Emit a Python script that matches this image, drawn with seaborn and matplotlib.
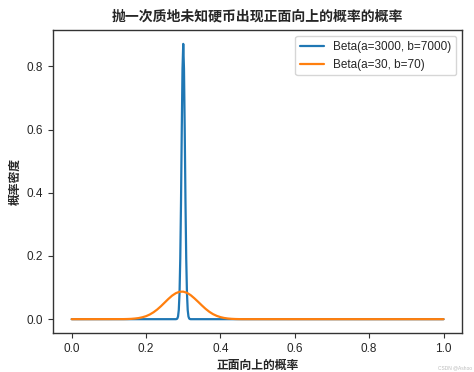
import matplotlib
matplotlib.use("Agg")
import matplotlib.pyplot as plt
import seaborn as sns

# Beta(3000, 7000): very narrow spike around 0.3
x_big = [0.0, 0.280, 0.282, 0.284, 0.286, 0.288, 0.290, 0.292, 0.294, 0.296,
         0.298, 0.300, 0.302, 0.304, 0.306, 0.308, 0.310, 0.312, 0.314,
         0.316, 0.318, 0.320, 1.0]
y_big = [0.0, 0.0, 0.0004, 0.002, 0.0085, 0.029, 0.082, 0.192, 0.371, 0.596,
         0.792, 0.871, 0.792, 0.596, 0.371, 0.192, 0.082, 0.029, 0.0085,
         0.002, 0.0004, 0.0, 0.0]

# Beta(30, 70): wide bump around 0.3
x_small = [0.0, 0.14, 0.15, 0.16, 0.17, 0.18, 0.19, 0.20, 0.21, 0.22, 0.23,
           0.24, 0.25, 0.26, 0.27, 0.28, 0.29, 0.30, 0.31, 0.32, 0.33, 0.34,
           0.35, 0.36, 0.37, 0.38, 0.39, 0.40, 0.41, 0.42, 0.43, 0.44, 0.45,
           0.46, 1.0]
y_small = [0.0, 0.0002, 0.0005, 0.001, 0.002, 0.0035, 0.006, 0.0095, 0.0148,
           0.0218, 0.0306, 0.041, 0.0525, 0.064, 0.0744, 0.0822, 0.0868,
           0.0871, 0.0834, 0.076, 0.066, 0.055, 0.0436, 0.0328, 0.0235,
           0.016, 0.0105, 0.0065, 0.0038, 0.0021, 0.0011, 0.0005, 0.0002,
           0.0001, 0.0]

labels = ["Beta(a=3000, b=7000)", "Beta(a=30, b=70)"]
title = "抛一次质地未知硬币出现正面向上的概率的概率"
xlabel = "正面向上的概率"
ylabel = "概率密度"

sns.set_style("ticks")
plt.rcParams["font.family"] = ["Liberation Sans", "Noto Sans CJK SC", "DejaVu Sans"]
plt.rcParams["axes.unicode_minus"] = False

fig, ax = plt.subplots(figsize=(4.74, 3.72), dpi=100)
fig.subplots_adjust(left=0.112, right=0.975, top=0.919, bottom=0.105)

sns.lineplot(x=x_big, y=y_big, ax=ax, color="#1f77b4", linewidth=1.6, label=labels[0])
sns.lineplot(x=x_small, y=y_small, ax=ax, color="#ff7f0e", linewidth=1.6, label=labels[1])

ax.set_xticks([0.0, 0.2, 0.4, 0.6, 0.8, 1.0])
ax.set_yticks([0.0, 0.2, 0.4, 0.6, 0.8])
ax.tick_params(labelsize=8.5, length=3.5, color="#333333")
for s in ax.spines.values():
    s.set_color("#333333")
    s.set_linewidth(1.0)

ax.set_title(title, fontsize=10, fontweight="bold", pad=7)
ax.set_xlabel(xlabel, fontsize=8.5, fontweight="bold")
ax.set_ylabel(ylabel, fontsize=8.5, fontweight="bold")
ax.legend(loc="upper right", fontsize=8.5, frameon=True)

fig.text(0.995, 0.005, "CSDN @Ashoo", fontsize=3.5, color="#bbbbbb", ha="right", va="bottom")

fig.savefig("out.png", dpi=100)
